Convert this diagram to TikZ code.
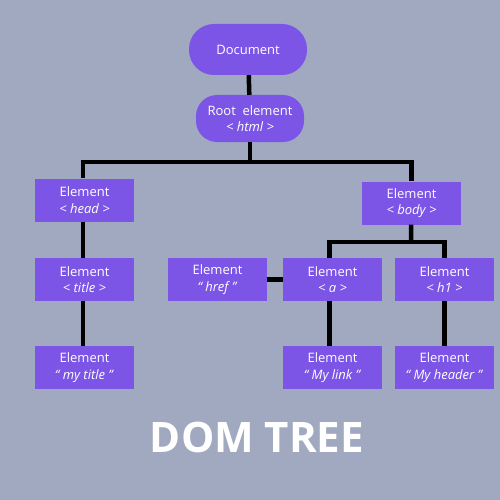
\documentclass[tikz,border=0pt]{standalone}
\usepackage{fontspec}
\setmainfont{Open Sans}
\usetikzlibrary{calc}
\definecolor{bg}{HTML}{A1A9C1}
\definecolor{lila}{HTML}{7C55E6}
\tikzset{ r/.style = { rectangle % rounded top node
, rounded corners = 22pt
, fill = lila
, text = white
, inner sep = 0pt
, align = center
, font = \fontsize{13}{16.5}\selectfont
}
, e/.style = { rectangle % element
, fill = lila
, text = white
, minimum width = 99pt
, minimum height = 43pt
, inner sep = 0pt
, align = center
, font = \fontsize{13}{16.5}\selectfont
}
, w/.style = { line width = 4.5pt % wire
, draw = black
}
}
\newcommand{\el}[1]{Element\\\textit{#1}}

\begin{document}
\begin{tikzpicture}[x=1pt, y=-1pt]
    \fill[bg] (0,0) rectangle (500,500);
    \coordinate (hub) at (250,162);
    \coordinate (fork) at (411,242);
    % the tree
    \node[r, rounded corners=25pt, minimum width=118pt, minimum height=51pt] (doc) at (248,49.5) {Document};
    \node[r, rounded corners=21pt, minimum width=108pt, minimum height=47pt] (root) at (250,118.5) {Root\ \ element\\\textit{< html >}};
    \node[e] (head) at (84.5,200) {\el{< head >}};
    \node[e] (body) at (411.5,203) {\el{< body >}};
    \node[e] (title) at (84.5,279.5) {\el{< title >}};
    \node[e] (href) at (217.5,279.5) {\el{“ href ”}};
    \node[e] (a) at (332.5,279.5) {\el{< a >}};
    \node[e] (h1) at (444.5,279.5) {\el{< h1 >}};
    \node[e] (mytitle) at (84.5,367.5) {\el{“ my title ”}};
    \node[e] (mylink) at (332.5,367.5) {\el{“ My link ”}};
    \node[e] (myheader) at (444.5,367.5) {\el{“ My header ”}};
    % wires
    \draw[w] (doc) -- (root);
    \draw[w] (root) -- (hub);
    \draw[w] ($(head.north)+(-1.5,0)$) |- (hub) -| (body);
    \draw[w] (body) -- (fork);
    \draw[w] ($(a.north)+(-3,0)$) |- (fork) -| (h1);
    \draw[w] (href) -- (a);
    \draw[w] ($(head.south)+(-1.5,0)$) -- ($(title.north)+(-1.5,0)$);
    \draw[w] ($(title.south)+(-1.5,0)$) -- ($(mytitle.north)+(-1.5,0)$);
    \draw[w] ($(a.south)+(-3,0)$) -- ($(mylink.north)+(-3,0)$);
    \draw[w] (h1) -- (myheader);
    \node[font=\fontsize{42}{50}\selectfont\bfseries, text=white] (ttl) at (257,437) {DOM TREE};
\end{tikzpicture}
\end{document}
